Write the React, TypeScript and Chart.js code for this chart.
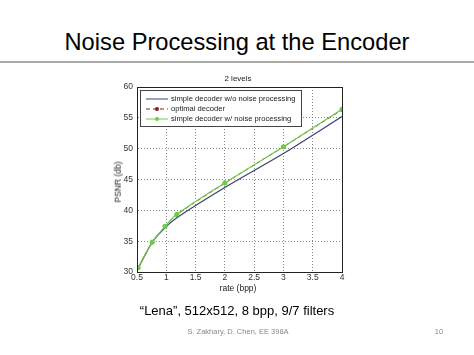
import React, { useEffect, useRef } from "react";
import { Chart, registerables } from "chart.js";

Chart.register(...registerables);

const rates = [0.52, 0.76, 0.98, 1.18, 2.0, 3.0, 4.0];
const simpleNoProc = [30.6, 34.8, 37.2, 38.8, 43.7, 49.2, 55.2];
const optimal = [30.7, 34.8, 37.4, 39.3, 44.4, 50.3, 56.3];
const simpleProc = [30.7, 34.85, 37.4, 39.35, 44.45, 50.3, 56.4];

const xTicks = [0.5, 1, 1.5, 2, 2.5, 3, 3.5, 4];
const yTicks = [30, 35, 40, 45, 50, 55, 60];

const seriesNames = [
  "simple decoder w/o noise processing",
  "optimal decoder",
  "simple decoder w/ noise processing",
];

const FONT = "'Liberation Sans', Arial, sans-serif";
const BLUE = "#3b4170";
const RED = "#8c1c1c";
const GREEN = "#6ccc4a";

const W = 474;
const H = 355;
const AREA = { left: 137, right: 342, top: 87, bottom: 272 };

const pts = (ys: number[]) => rates.map((x, i) => ({ x, y: ys[i] }));

const framePlugin = {
  id: "frameLegend",
  afterDraw(chart: any) {
    const ctx = chart.ctx;
    const a = chart.chartArea;
    ctx.save();
    ctx.strokeStyle = "#222";
    ctx.lineWidth = 1;
    ctx.strokeRect(a.left + 0.5, a.top + 0.5, a.right - a.left, a.bottom - a.top);
    // legend box
    const lx = a.left + 3;
    const ly = a.top + 3;
    const lw = 161;
    const lh = 36;
    ctx.fillStyle = "#fff";
    ctx.fillRect(lx, ly, lw, lh);
    ctx.strokeStyle = "#444";
    ctx.strokeRect(lx + 0.5, ly + 0.5, lw, lh);
    const rows = [ly + 9, ly + 19, ly + 29];
    const cols = [BLUE, RED, GREEN];
    ctx.font = "7.6px " + FONT;
    ctx.textBaseline = "middle";
    rows.forEach((ry, i) => {
      ctx.strokeStyle = cols[i];
      ctx.lineWidth = 1;
      ctx.setLineDash(i === 1 ? [4, 3] : []);
      ctx.beginPath();
      ctx.moveTo(lx + 6, ry);
      ctx.lineTo(lx + 28, ry);
      ctx.stroke();
      ctx.setLineDash([]);
      if (i > 0) {
        ctx.fillStyle = cols[i];
        ctx.beginPath();
        ctx.arc(lx + 17, ry, 2, 0, Math.PI * 2);
        ctx.fill();
      }
      ctx.fillStyle = "#222";
      ctx.fillText(seriesNames[i], lx + 31, ry);
    });
    ctx.restore();
  },
};

function PlotCanvas() {
  const ref = useRef<HTMLCanvasElement | null>(null);
  useEffect(() => {
    if (!ref.current) return;
    const chart = new Chart(ref.current, {
      type: "scatter",
      data: {
        datasets: [
          {
            label: seriesNames[0],
            data: pts(simpleNoProc),
            showLine: true,
            borderColor: BLUE,
            borderWidth: 1.2,
            pointRadius: 0,
            tension: 0.3,
            order: 3,
          },
          {
            label: seriesNames[1],
            data: pts(optimal),
            showLine: true,
            borderColor: RED,
            borderDash: [4, 3],
            borderWidth: 1,
            pointRadius: 2,
            pointBackgroundColor: RED,
            pointBorderWidth: 0,
            tension: 0.3,
            order: 2,
          },
          {
            label: seriesNames[2],
            data: pts(simpleProc),
            showLine: true,
            borderColor: GREEN,
            borderWidth: 1.2,
            pointRadius: 2.5,
            pointBackgroundColor: GREEN,
            pointBorderWidth: 0,
            tension: 0.3,
            order: 1,
          },
        ],
      },
      options: {
        animation: false,
        responsive: false,
        layout: {
          padding: { left: 0, top: AREA.top, right: W - AREA.right, bottom: 0 },
        },
        plugins: {
          legend: { display: false },
          tooltip: { enabled: false },
          title: { display: false },
        },
        scales: {
          x: {
            type: "linear",
            min: 0.5,
            max: 4,
            afterBuildTicks: (s: any) => {
              s.ticks = xTicks.map((v) => ({ value: v }));
            },
            afterFit: (s: any) => {
              s.height = H - AREA.bottom;
            },
            ticks: {
              font: { family: FONT, size: 8.5 },
              color: "#333",
              padding: 1,
              maxRotation: 0,
              callback: (v: any) => String(v),
            },
            grid: {
              color: "#888",
              drawTicks: false,
              lineWidth: 1,
            },
            border: { display: true, color: "#222", dash: [1, 2] },
          },
          y: {
            type: "linear",
            min: 30,
            max: 60,
            afterBuildTicks: (s: any) => {
              s.ticks = yTicks.map((v) => ({ value: v }));
            },
            afterFit: (s: any) => {
              s.width = AREA.left;
            },
            ticks: {
              font: { family: FONT, size: 8.5 },
              color: "#333",
              padding: 4,
              callback: (v: any) => String(v),
            },
            grid: {
              color: "#888",
              drawTicks: false,
              lineWidth: 1,
            },
            border: { display: true, color: "#222", dash: [1, 2] },
          },
        },
      },
      plugins: [framePlugin],
    } as any);
    return () => chart.destroy();
  }, []);
  return <canvas ref={ref} width={W} height={H} style={{ position: "absolute", left: 0, top: 0 }} />;
}

const centered = (x: number, y: number, size: number, extra: any = {}) => ({
  position: "absolute" as const,
  left: x,
  top: y,
  transform: "translate(-50%, -50%)",
  fontFamily: FONT,
  fontSize: size,
  lineHeight: 1,
  whiteSpace: "nowrap" as const,
  color: "#000",
  ...extra,
});

export default function App() {
  return (
    <div
      style={{
        position: "fixed",
        left: 0,
        top: 0,
        width: W,
        height: H,
        background: "#fff",
        overflow: "hidden",
      }}
    >
      <div style={centered(237, 43, 23.7)}>Noise Processing at the Encoder</div>
      <div style={{ position: "absolute", left: 0, top: 61, width: W, height: 2, background: "#aaa" }} />
      <PlotCanvas />
      <div style={centered(238, 79, 8, { color: "#222" })}>2 levels</div>
      <div style={centered(118, 182, 8.5, { color: "#222", transform: "translate(-50%, -50%) rotate(-90deg)" })}>
        PSNR (db)
      </div>
      <div style={centered(238, 288, 8.5, { color: "#222" })}>rate (bpp)</div>
      <div style={centered(237, 310, 13)}>“Lena”, 512x512, 8 bpp, 9/7 filters</div>
      <div style={centered(238, 332, 7.5, { color: "#888" })}>S. Zakhary, D. Chen, EE 398A</div>
      <div style={centered(439, 332, 7.5, { color: "#888" })}>10</div>
    </div>
  );
}
